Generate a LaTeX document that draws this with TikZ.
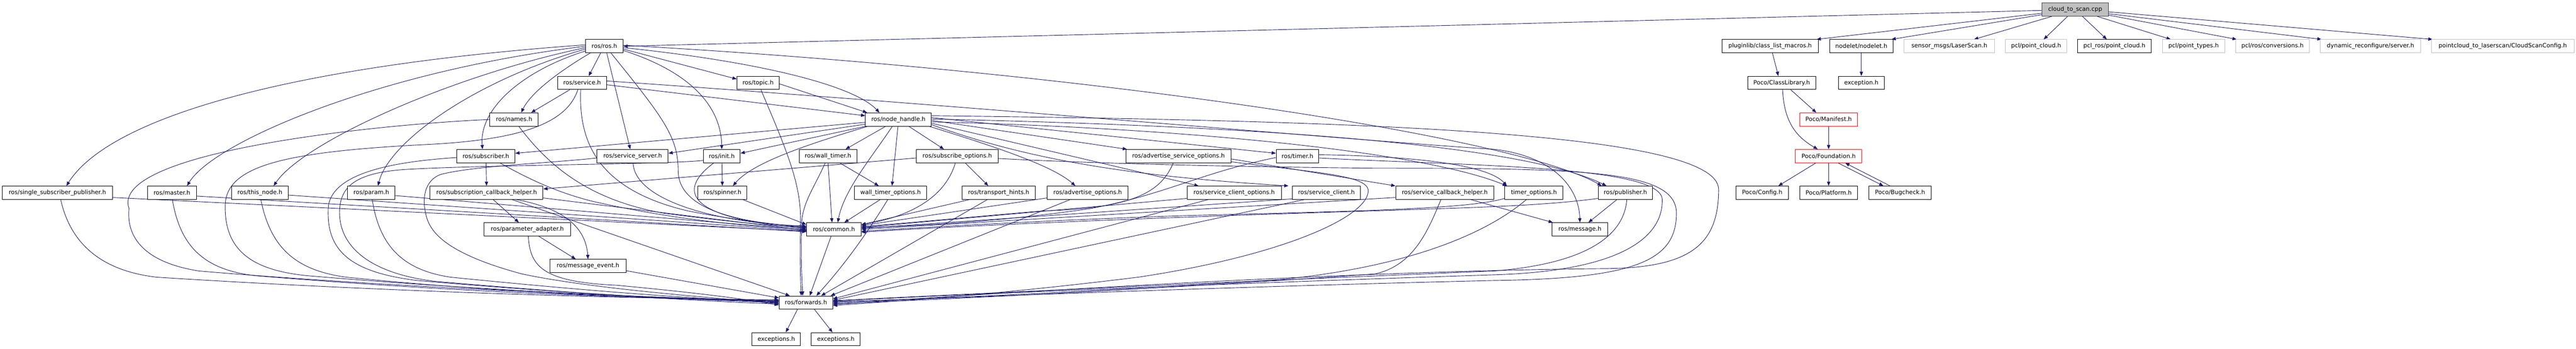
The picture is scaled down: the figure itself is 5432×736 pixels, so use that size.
\documentclass[tikz,border=0pt]{standalone}
\usepackage{fontspec}
\setmainfont{DejaVu Sans}
\usetikzlibrary{arrows.meta}
\definecolor{edgec}{HTML}{191970}
\definecolor{greyb}{HTML}{BFBFBF}
\definecolor{rootb}{HTML}{404040}
\pgfdeclarelayer{bglayer}
\pgfdeclarelayer{edgelayer}
\pgfsetlayers{bglayer,edgelayer,main}
\tikzset{
 nd/.style={draw=black, fill=white, line width=1pt, minimum height=28pt, inner sep=0pt, font=\fontsize{12.4}{14}\selectfont},
 gn/.style={nd, draw=greyb},
 rn/.style={nd, draw=red},
 rootnd/.style={nd, fill=greyb, draw=rootb},
 e/.style={draw=edgec, line width=1pt, -{Triangle[length=9pt,width=7pt]}},
}
\begin{document}
\begin{tikzpicture}[x=1pt,y=-1pt]
\begin{pgfonlayer}{bglayer}
\fill[white] (0,0) rectangle (5432,736);
\end{pgfonlayer}
\useasboundingbox (0,0) rectangle (5432,736);
% row 0
\node[rootnd, minimum width=140pt] (cpp) at (4376,20) {cloud\_to\_scan.cpp};
% row 1
\node[nd, minimum width=79pt] (ros) at (1274.5,97.6) {ros/ros.h};
\node[nd, minimum width=203pt] (plug) at (3732.5,97.6) {pluginlib/class\_list\_macros.h};
\node[nd, minimum width=134pt] (nodelet) at (3925,97.6) {nodelet/nodelet.h};
\node[gn, minimum width=191pt] (laser) at (4110.5,97.6) {sensor\_msgs/LaserScan.h};
\node[gn, minimum width=129pt] (pclpc) at (4293.5,97.6) {pcl/point\_cloud.h};
\node[nd, minimum width=155pt] (pclros) at (4458.5,97.6) {pcl\_ros/point\_cloud.h};
\node[gn, minimum width=131pt] (pclpt) at (4625.5,97.6) {pcl/point\_types.h};
\node[gn, minimum width=156pt] (pclconv) at (4792,97.6) {pcl/ros/conversions.h};
\node[gn, minimum width=211pt] (dynrec) at (4998.5,97.6) {dynamic\_reconfigure/server.h};
\node[gn, minimum width=301pt] (cfg) at (5277.5,97.6) {pointcloud\_to\_laserscan/CloudScanConfig.h};
% row 2
\node[nd, minimum width=103pt] (service) at (1227.5,174.9) {ros/service.h};
\node[nd, minimum width=89pt] (topic) at (1598.5,174.9) {ros/topic.h};
\node[nd, minimum width=144pt] (classlib) at (3757,174.9) {Poco/ClassLibrary.h};
\node[nd, minimum width=96pt] (exception) at (3925,174.9) {exception.h};
% row 3
\node[nd, minimum width=102pt] (names) at (1084,252.2) {ros/names.h};
\node[nd, minimum width=139pt] (nh) at (1894.5,252.2) {ros/node\_handle.h};
\node[rn, minimum width=122pt] (manifest) at (3856,252.2) {Poco/Manifest.h};
% row 4
\node[nd, minimum width=123pt] (subscriber) at (1024.5,329.5) {ros/subscriber.h};
\node[nd, minimum width=150pt] (srvserver) at (1334,329.5) {ros/service\_server.h};
\node[nd, minimum width=78pt] (init) at (1522,329.5) {ros/init.h};
\node[nd, minimum width=122pt] (walltimer) at (1746,329.5) {ros/wall\_timer.h};
\node[nd, minimum width=173pt] (subopts) at (2018.5,329.5) {ros/subscribe\_options.h};
\node[nd, minimum width=222pt] (advsrvopts) at (2485,329.5) {ros/advertise\_service\_options.h};
\node[nd, minimum width=90pt] (timer) at (2736,329.5) {ros/timer.h};
\node[rn, minimum width=140pt] (foundation) at (3856,329.5) {Poco/Foundation.h};
% row 5
\node[nd, minimum width=232pt] (ssp) at (121,406.8) {ros/single\_subscriber\_publisher.h};
\node[nd, minimum width=103pt] (master) at (362.5,406.8) {ros/master.h};
\node[nd, minimum width=120pt] (thisnode) at (548,406.8) {ros/this\_node.h};
\node[nd, minimum width=100pt] (param) at (783,406.8) {ros/param.h};
\node[nd, minimum width=238pt] (subcb) at (1026,406.8) {ros/subscription\_callback\_helper.h};
\node[nd, minimum width=103pt] (spinner) at (1523.5,406.8) {ros/spinner.h};
\node[nd, minimum width=152pt] (wtopts) at (1878,406.8) {wall\_timer\_options.h};
\node[nd, minimum width=154pt] (transport) at (2106,406.8) {ros/transport\_hints.h};
\node[nd, minimum width=171pt] (advopts) at (2293.5,406.8) {ros/advertise\_options.h};
\node[nd, minimum width=199pt] (scopts) at (2602.5,406.8) {ros/service\_client\_options.h};
\node[nd, minimum width=144pt] (sclient) at (2797,406.8) {ros/service\_client.h};
\node[nd, minimum width=207pt] (srvcb) at (3046.5,406.8) {ros/service\_callback\_helper.h};
\node[nd, minimum width=123pt] (topts) at (3234.5,406.8) {timer\_options.h};
\node[nd, minimum width=115pt] (publisher) at (3427.5,406.8) {ros/publisher.h};
\node[nd, minimum width=110pt] (config) at (3716,406.8) {Poco/Config.h};
\node[nd, minimum width=122pt] (platform) at (3856,406.8) {Poco/Platform.h};
\node[nd, minimum width=131pt] (bugcheck) at (4006.5,406.8) {Poco/Bugcheck.h};
% row 6
\node[nd, minimum width=182pt] (paramad) at (1112,484.1) {ros/parameter\_adapter.h};
\node[nd, minimum width=115pt] (common) at (1758.5,484.1) {ros/common.h};
\node[nd, minimum width=117pt] (message) at (3331.5,484.1) {ros/message.h};
% row 7
\node[nd, minimum width=160pt] (msgevent) at (1240,561.4) {ros/message\_event.h};
% row 8
\node[nd, minimum width=113pt] (fwd) at (1699.5,638.7) {ros/forwards.h};
% row 9
\node[nd, minimum width=102pt] (exc1) at (1637,716) {exceptions.h};
\node[nd, minimum width=103pt] (exc2) at (1762.5,716) {exceptions.h};

\begin{pgfonlayer}{edgelayer}
% root
\draw[e] ([yshift=-2pt]cpp.west) -- (ros.east);
\draw[e] ([yshift=-8pt]cpp.west) -- ([xshift=-4pt]plug.north east);
\draw[e] ([yshift=-11pt]cpp.west) -- ([xshift=-4pt]nodelet.north east);
\draw[e] ([xshift=-49pt]cpp.south) -- ([xshift=52pt]laser.north);
\draw[e] ([xshift=-16pt]cpp.south) -- ([xshift=16pt]pclpc.north);
\draw[e] ([xshift=15pt]cpp.south) -- ([xshift=-16pt]pclros.north);
\draw[e] ([xshift=46pt]cpp.south) -- ([xshift=-48pt]pclpt.north);
\draw[e] ([yshift=-12pt]cpp.east) -- ([xshift=3pt]pclconv.north west);
\draw[e] ([yshift=-9pt]cpp.east) -- ([xshift=3pt]dynrec.north west);
\draw[e] ([yshift=-5pt]cpp.east) -- ([xshift=3pt]cfg.north west);
% third party
\draw[e] ([xshift=5pt]plug.south) -- ([xshift=-7pt]classlib.north);
\draw[e] (nodelet) -- (exception);
\draw[e] ([xshift=19pt]classlib.south) -- ([xshift=-26pt]manifest.north);
\draw[e] ([xshift=2pt]classlib.south) .. controls (3762,260) and (3790,290) .. ([xshift=-23pt]foundation.north);
\draw[e] (manifest) -- (foundation);
\draw[e] ([xshift=-27pt]foundation.south) -- ([xshift=34pt]config.north);
\draw[e] (foundation) -- (platform);
\draw[e] ([xshift=20pt]foundation.south) -- ([xshift=-35pt]bugcheck.north);
\draw[e] ([xshift=-21pt]bugcheck.north) -- ([xshift=35pt]foundation.south);
% ros.h
\draw[e] ([yshift=3pt]ros.west) .. controls (600,140) and (230,250) .. ([xshift=19pt]ssp.north);
\draw[e] (ros.west) .. controls (800,150) and (450,300) .. ([xshift=32pt]master.north);
\draw[e] ([yshift=-3pt]ros.west) .. controls (950,160) and (640,300) .. ([xshift=29pt]thisnode.north);
\draw[e] ([yshift=-6pt]ros.west) .. controls (1000,170) and (820,300) .. ([xshift=14pt]param.north);
\draw[e] ([yshift=-10pt]ros.west) .. controls (1100,150) and (1010,230) .. ([xshift=-7pt]subscriber.north);
\draw[e] ([xshift=-30pt]ros.south) .. controls (1180,150) and (1120,195) .. ([xshift=15pt]names.north);
\draw[e] ([xshift=-8pt]ros.south) -- ([xshift=14pt]service.north);
\draw[e] ([xshift=5pt]ros.south) -- ([xshift=-5pt]srvserver.north);
\draw[e] ([xshift=14pt]ros.south) .. controls (1400,250) and (1430,290) .. (1430,360) .. controls (1430,440) and (1550,470) .. ([yshift=6pt]common.west);
\draw[e] ([yshift=-9pt]ros.east) .. controls (1450,150) and (1520,220) .. (init.north);
\draw[e] ([yshift=-6pt]ros.east) -- ([yshift=8pt]topic.west);
\draw[e] ([yshift=-3pt]ros.east) .. controls (1600,130) and (1800,180) .. ([xshift=-40pt]nh.north);
\draw[e] ([yshift=2pt]ros.east) .. controls (2300,150) and (3200,290) .. ([xshift=-50pt]publisher.north);
% service.h
\draw[e] ([xshift=-26pt]service.south) -- ([xshift=36pt]names.north);
\draw[e] ([xshift=-9pt]service.south) .. controls (1195,260) and (1100,295) .. (900,305) .. controls (600,320) and (480,350) .. (475,430) .. controls (472,520) and (520,570) .. (650,582) .. controls (1000,612) and (1400,630) .. ([yshift=4pt]fwd.west);
\draw[e] ([xshift=-3pt]service.south) .. controls (1220,300) and (1260,400) .. (1450,445) .. controls (1550,465) and (1650,475) .. ([yshift=3pt]common.west);
\draw[e] ([yshift=-4pt]service.east) -- ([yshift=8pt]nh.west);
\draw[e] ([yshift=4pt]service.east) .. controls (2000,220) and (2900,300) .. (3150,315) .. controls (3280,330) and (3330,400) .. (message.north);
% topic.h
\draw[e] ([yshift=-2pt]topic.east) -- ([xshift=4pt]nh.north west);
\draw[e] ([xshift=6pt]topic.south) .. controls (1660,320) and (1690,390) .. (1688,470) .. controls (1686,540) and (1688,590) .. ([xshift=-10pt]fwd.north);
% names.h
\draw[e] (names.west) .. controls (800,262) and (230,320) .. (272,440) .. controls (268,480) and (280,550) .. (420,572) .. controls (900,612) and (1400,628) .. ([yshift=2pt]fwd.west);
\draw[e] ([xshift=10pt]names.south) .. controls (1150,340) and (1230,420) .. (1400,450) .. controls (1550,470) and (1650,478) .. ([yshift=4pt]common.west);
% node_handle.h
\draw[e] ([yshift=-6pt]nh.west) -- ([yshift=6pt]subscriber.east);
\draw[e] ([yshift=-10pt]nh.west) -- ([yshift=6pt]srvserver.east);
\draw[e] (nh.south west) -- ([yshift=6pt]init.east);
\draw[e] ([xshift=5pt]nh.south west) .. controls (1720,300) and (1590,340) .. ([xshift=22pt]spinner.north);
\draw[e] ([xshift=-27pt]nh.south) -- ([xshift=37pt]walltimer.north);
\draw[e] ([xshift=-13pt]nh.south) .. controls (1840,330) and (1780,400) .. ([xshift=8pt]common.north);
\draw[e] ([xshift=-1pt]nh.south) -- ([xshift=3pt]wtopts.north);
\draw[e] ([xshift=22pt]nh.south) -- ([xshift=-28pt]subopts.north);
\draw[e] ([xshift=65pt]nh.south) .. controls (2100,310) and (2220,350) .. ([xshift=-26pt]advopts.north);
\draw[e] ([yshift=-2pt]nh.east) -- ([xshift=3pt]advsrvopts.north west);
\draw[e] ([yshift=4pt]nh.east) -- ([yshift=6pt]timer.west);
\draw[e] ([yshift=-8pt]nh.east) -- ([xshift=-75pt]scopts.north);
\draw[e] ([yshift=-11pt]nh.east) .. controls (2150,330) and (2350,370) .. ([xshift=-80pt]sclient.north);
\draw[e] ([yshift=-5pt]nh.east) .. controls (2500,270) and (3000,320) .. ([xshift=-57pt]topts.north);
\draw[e] ([yshift=1pt]nh.east) .. controls (2600,265) and (3200,300) .. ([xshift=-40pt]publisher.north);
\draw[e] ([yshift=8pt]nh.east) .. controls (2900,255) and (3624,280) .. (3624,400) .. controls (3624,520) and (3560,566) .. (3380,567) .. controls (2800,572) and (2000,625) .. ([yshift=-4pt]fwd.east);
% subscriber.h
\draw[e] ([xshift=0.5pt]subscriber.south) -- (subcb.north);
\draw[e] ([xshift=30pt]subscriber.south) .. controls (1110,375) and (1170,405) .. (1250,425) .. controls (1450,470) and (1600,478) .. (common.west);
\draw[e] ([yshift=-3pt]subscriber.west) .. controls (850,340) and (690,360) .. (692,445) .. controls (690,530) and (740,575) .. (880,592) .. controls (1200,620) and (1450,632) .. ([yshift=0pt]fwd.west);
% service_server.h
\draw[e] ([xshift=1pt]srvserver.south) .. controls (1338,420) and (1500,470) .. ([yshift=7pt]common.west);
\draw[e] ([yshift=-4pt]srvserver.west) .. controls (1150,345) and (1000,350) .. (930,368) .. controls (895,380) and (888,420) .. (900,460) .. controls (912,500) and (960,540) .. (1100,578) .. controls (1250,610) and (1500,628) .. ([yshift=-2pt]fwd.west);
% init.h
\draw[e] (init) -- (spinner);
\draw[e] ([xshift=-17pt]init.south) .. controls (1430,400) and (1440,460) .. ([yshift=2pt]common.west);
\draw[e] ([yshift=-9pt]init.west) .. controls (1420,347) and (1000,348) .. (850,358) .. controls (740,366) and (718,400) .. (716,445) .. controls (714,520) and (780,578) .. (920,594) .. controls (1250,622) and (1450,634) .. ([yshift=-3pt]fwd.west);
% wall_timer.h
\draw[e] (walltimer.south) -- ([xshift=-4pt]common.north);
\draw[e] ([xshift=25pt]walltimer.south) -- ([xshift=-25pt]wtopts.north);
\draw[e] ([xshift=-6pt]walltimer.south) .. controls (1715,400) and (1690,430) .. (1690,480) .. controls (1688,560) and (1692,600) .. ([xshift=-7pt]fwd.north);
% subscribe_options.h
\draw[e] ([xshift=17pt]subopts.south) -- ([xshift=-22pt]transport.north);
\draw[e] ([xshift=-4pt]subopts.south) .. controls (1995,410) and (1930,455) .. ([yshift=10pt]common.east);
\draw[e] ([yshift=-4pt]subopts.west) -- ([yshift=8pt]subcb.east);
\draw[e] ([yshift=-5pt]subopts.east) .. controls (2300,345) and (2600,352) .. (2900,355) .. controls (3350,355) and (3535,360) .. (3535,450) .. controls (3535,550) and (3450,588) .. (3150,592) .. controls (2600,605) and (2000,628) .. (fwd.east);
% advertise_service_options.h
\draw[e] ([yshift=-6pt]advsrvopts.east) -- (srvcb.north west);
\draw[e] ([xshift=-11pt]advsrvopts.south) .. controls (2450,400) and (2400,440) .. (2200,445) .. controls (2000,462) and (1900,472) .. ([yshift=6pt]common.east);
\draw[e] ([yshift=-12pt]advsrvopts.east) .. controls (2780,365) and (2890,370) .. (2885,405) .. controls (2880,460) and (2700,540) .. (2400,585) .. controls (2100,622) and (1900,635) .. ([yshift=-6pt]fwd.east);
% timer.h
\draw[e] ([yshift=3pt]timer.east) .. controls (3000,330) and (3140,350) .. ([xshift=-57pt]topts.north);
\draw[e] ([yshift=-3pt]timer.west) .. controls (2530,365) and (2460,410) .. (2300,440) .. controls (2100,470) and (1900,478) .. ([yshift=4pt]common.east);
\draw[e] ([yshift=-4pt]timer.east) .. controls (3100,350) and (3500,350) .. (3505,420) .. controls (3508,500) and (3420,572) .. (3150,580) .. controls (2600,598) and (2000,622) .. ([yshift=3pt]fwd.east);
% row 5 left
\draw[e] ([xshift=7pt]ssp.south) .. controls (150,520) and (220,572) .. (330,585) .. controls (800,615) and (1300,630) .. ([yshift=6pt]fwd.west);
\draw[e] ([xshift=1pt]master.south) .. controls (380,520) and (430,570) .. (540,582) .. controls (900,612) and (1300,630) .. ([yshift=5pt]fwd.west);
\draw[e] ([xshift=2pt]thisnode.south) .. controls (570,520) and (620,570) .. (730,585) .. controls (1000,612) and (1300,630) .. ([yshift=3pt]fwd.west);
\draw[e] ([xshift=2pt]param.south) .. controls (800,520) and (850,570) .. (950,585) .. controls (1150,605) and (1400,628) .. ([yshift=1pt]fwd.west);
\draw[e] ([yshift=-10pt]ssp.east) -- ([yshift=-4pt]common.west);
\draw[e] ([yshift=-7pt]master.east) -- ([yshift=-5pt]common.west);
\draw[e] ([yshift=-5pt]thisnode.east) -- ([yshift=-3pt]common.west);
\draw[e] ([yshift=-6pt]param.east) -- ([yshift=-1pt]common.west);
% subscription_callback_helper.h
\draw[e] ([yshift=-11pt]subcb.east) -- ([yshift=-2pt]common.west);
\draw[e] ([xshift=14pt]subcb.south) -- ([xshift=-18pt]paramad.north);
\draw[e] ([xshift=63pt]subcb.south) .. controls (1190,440) and (1235,480) .. (msgevent.north);
\draw[e] ([xshift=54pt]subcb.south) -- ([xshift=-34pt]fwd.north);
% parameter_adapter / message_event
\draw[e] ([xshift=24pt]paramad.south) -- ([xshift=-26pt]msgevent.north);
\draw[e] ([xshift=2pt]paramad.south) .. controls (1118,560) and (1140,595) .. (1300,602) .. controls (1450,616) and (1550,628) .. ([yshift=-5pt]fwd.west);
\draw[e] ([yshift=-10pt]msgevent.east) -- ([yshift=10pt]fwd.west);
% spinner
\draw[e] ([xshift=43pt]spinner.south) -- ([yshift=10pt]common.west);
% common / forwards
\draw[e] ([xshift=-6pt]common.south) -- ([xshift=8pt]fwd.north);
\draw[e] ([xshift=-18pt]fwd.south) -- ([xshift=20pt]exc1.north);
\draw[e] ([xshift=18pt]fwd.south) -- ([xshift=-7pt]exc2.north);
% right row 5
\draw[e] ([xshift=-22pt]wtopts.south) -- ([xshift=22pt]common.north);
\draw[e] ([xshift=-6pt]wtopts.south) .. controls (1830,490) and (1780,560) .. ([xshift=22pt]fwd.north);
\draw[e] ([xshift=-62pt]transport.south) -- ([yshift=10pt]common.east);
\draw[e] ([xshift=-24pt]transport.south) -- ([xshift=32pt]fwd.north);
\draw[e] ([yshift=-11pt]advopts.west) -- ([yshift=8pt]common.east);
\draw[e] ([xshift=-37pt]advopts.south) -- ([xshift=-5pt]fwd.north east);
\draw[e] ([yshift=-12pt]scopts.west) -- ([yshift=4pt]common.east);
\draw[e] ([xshift=-55pt]scopts.south) -- ([yshift=8pt]fwd.east);
\draw[e] ([yshift=-13pt]sclient.west) -- ([yshift=2pt]common.east);
\draw[e] ([xshift=-47pt]sclient.south) -- ([yshift=5pt]fwd.east);
\draw[e] ([yshift=-10pt]srvcb.west) -- (common.east);
\draw[e] ([xshift=-8pt]srvcb.south) .. controls (3010,490) and (2980,560) .. (2900,578) .. controls (2600,600) and (2100,628) .. ([yshift=-2pt]fwd.east);
\draw[e] ([xshift=55pt]srvcb.south) -- ([xshift=2pt]message.north west);
\draw[e] ([yshift=-12pt]topts.west) .. controls (3100,440) and (2900,445) .. (2500,455) .. controls (2200,465) and (1950,480) .. ([yshift=-4pt]common.east);
\draw[e] ([xshift=-16pt]topts.south) .. controls (3150,480) and (3000,560) .. (2700,590) .. controls (2300,615) and (2000,630) .. ([yshift=2pt]fwd.east);
\draw[e] ([yshift=-12pt]publisher.west) .. controls (3250,435) and (3100,438) .. (2900,445) .. controls (2400,460) and (2000,478) .. ([yshift=-6pt]common.east);
\draw[e] ([xshift=-18pt]publisher.south) -- ([xshift=18pt]message.north);
\draw[e] ([xshift=3pt]publisher.south) .. controls (3425,490) and (3360,555) .. (3150,572) .. controls (2700,590) and (2000,622) .. ([yshift=4pt]fwd.east);
\end{pgfonlayer}
\end{tikzpicture}
\end{document}
